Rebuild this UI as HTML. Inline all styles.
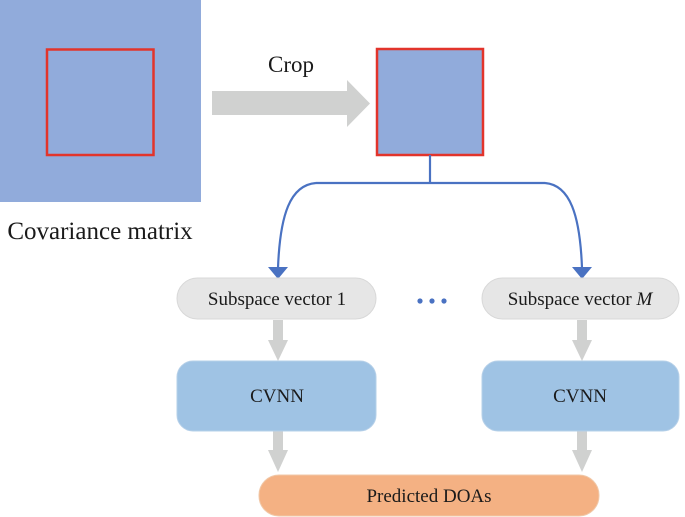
<!DOCTYPE html>
<html><head><meta charset="utf-8"><style>
body{margin:0;background:#fff}
svg{display:block}
text{font-family:"Liberation Serif",serif;fill:#1a1a1a}
</style></head><body>
<svg width="685" height="517" viewBox="0 0 685 517" xmlns="http://www.w3.org/2000/svg">
<rect x="0" y="0" width="201" height="202" fill="#91abdb"/>
<rect x="47" y="49.5" width="106.5" height="105.5" fill="none" stroke="#e2342b" stroke-width="2.5"/>
<text x="100" y="239" font-size="25" text-anchor="middle">Covariance matrix</text>
<text x="291" y="72" font-size="23" text-anchor="middle">Crop</text>
<polygon points="212,91 347,91 347,80 370,103.5 347,127 347,115 212,115" fill="#d0d1d0"/>
<rect x="377" y="49" width="106" height="106" fill="#91abdb" stroke="#e2342b" stroke-width="2.5"/>
<g stroke="#4a72c2" stroke-width="2.2" fill="none">
<line x1="430" y1="155" x2="430" y2="183"/>
<path d="M316,183 L545,183"/>
<path d="M316,183 C290,185 280,215 278,268"/>
<path d="M545,183 C570,185 580,215 582,268"/>
</g>
<polygon points="268,267 288,267 278,279" fill="#4a72c2"/>
<polygon points="572,267 592,267 582,279" fill="#4a72c2"/>
<rect x="177" y="278" width="199" height="41" rx="20.5" fill="#e6e6e6" stroke="#d8d8d8"/>
<rect x="482" y="278" width="197" height="41" rx="20.5" fill="#e6e6e6" stroke="#d8d8d8"/>
<text x="277" y="305" font-size="19" text-anchor="middle">Subspace vector 1</text>
<text x="580" y="305" font-size="19" text-anchor="middle">Subspace vector <tspan font-style="italic">M</tspan></text>
<circle cx="420" cy="301" r="2.6" fill="#4a72c2"/><circle cx="432" cy="301" r="2.6" fill="#4a72c2"/><circle cx="444" cy="301" r="2.6" fill="#4a72c2"/>
<g fill="#d0d1d0">
<polygon points="273,320 283,320 283,340 288,340 278,361 268,340 273,340"/>
<polygon points="577,320 587,320 587,340 592,340 582,361 572,340 577,340"/>
<polygon points="273,429 283,429 283,450 288,450 278,472 268,450 273,450"/>
<polygon points="577,429 587,429 587,450 592,450 582,472 572,450 577,450"/>
</g>
<rect x="177" y="361" width="199" height="70" rx="16" fill="#9fc3e4" stroke="#b6d0e8"/>
<rect x="482" y="361" width="197" height="70" rx="16" fill="#9fc3e4" stroke="#b6d0e8"/>
<text x="277" y="402" font-size="19" text-anchor="middle">CVNN</text>
<text x="580" y="402" font-size="19" text-anchor="middle">CVNN</text>
<rect x="259" y="475" width="340" height="41" rx="20" fill="#f4b183" stroke="#f0c8a8"/>
<text x="429" y="502" font-size="19" text-anchor="middle">Predicted DOAs</text>
</svg>
</body></html>
